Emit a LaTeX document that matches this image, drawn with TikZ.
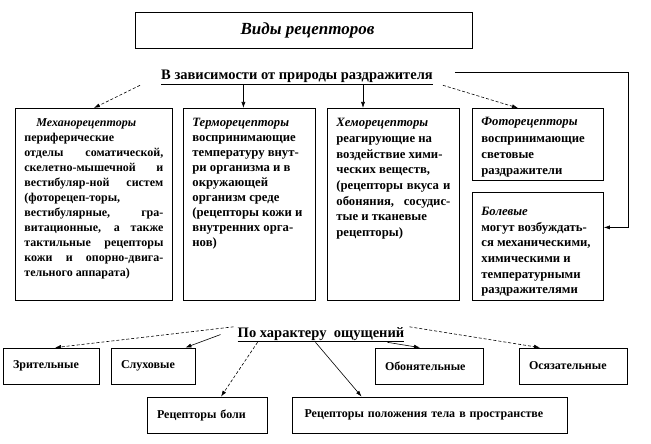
\documentclass[tikz,border=0pt]{standalone}
\usepackage{fontspec}
\setmainfont{Liberation Serif}
\usetikzlibrary{arrows.meta}
\tolerance=10000
\hbadness=10000
\hfuzz=5pt

\begin{document}
\begin{tikzpicture}[x=1pt,y=-1pt,
  recbox/.style={draw, line width=0.8pt, anchor=north west, inner xsep=9pt, inner ysep=0pt,
    font=\fontsize{12.7}{15}\selectfont\bfseries},
  smallbox/.style={draw, line width=0.8pt, inner xsep=10pt, minimum height=36pt, align=left,
    font=\fontsize{12}{14}\selectfont\bfseries},
  head/.style={inner sep=0pt, anchor=base, font=\fontsize{14.5}{16}\selectfont\bfseries},
  arr/.style={-{Latex[length=6pt,width=4pt]}, line width=0.6pt},
  darr/.style={arr, densely dashed}]
\useasboundingbox (0,0) rectangle (651,444);

% Title
\node[draw, line width=0.8pt, minimum width=337pt, minimum height=36pt,
  font=\fontsize{17}{19}\selectfont\bfseries\itshape] (title) at (303.5,30)
  {\hspace*{8pt}Виды рецепторов};

% By nature of the stimulus
\node[head] (nature) at (297,80) {\underline{В зависимости от природы раздражителя}};

\node[recbox, font=\fontsize{12}{15}\selectfont\bfseries] (mech) at (15,108)
  {\parbox[c][192pt][t]{139pt}{\vspace*{10pt}%
  \hspace*{12pt}\textit{Механорецепторы}\newline
  периферические\newline
  отделы соматической,\linebreak
  скелетно-мышечной и\linebreak
  вестибуляр-ной систем\linebreak
  (фоторецеп-торы,\newline
  вестибулярные, гра-\linebreak
  витационные, а также\linebreak
  тактильные рецепторы\linebreak
  кожи и опорно-двига-\linebreak
  тельного аппарата)}};
\node[recbox] (thermo) at (183,108) {\parbox[c][192pt][t]{114pt}{\vspace*{10pt}%
  \textit{Терморецепторы}\\
  воспринимающие\\
  температуру внут-\\
  ри организма и в\\
  окружающей\\
  организм среде\\
  (рецепторы кожи и\\
  внутренних орга-\\
  нов)}};
\node[recbox, font=\fontsize{12.7}{15.7}\selectfont\bfseries] (chemo) at (327,108)
  {\parbox[c][192pt][t]{114pt}{\vspace*{10pt}%
  \textit{Хеморецепторы}\newline
  реагирующие на\newline
  воздействие хими-\newline
  ческих веществ,\newline
  (рецепторы вкуса и\linebreak
  обоняния, сосудис-\linebreak
  тые и тканевые\newline
  рецепторы)}};
\node[recbox, font=\fontsize{12.7}{16.3}\selectfont\bfseries] (photo) at (472,108)
  {\parbox[c][72pt][t]{113pt}{\vspace*{9pt}%
  \textit{Фоторецепторы}\\
  воспринимающие\\
  световые\\
  раздражители}};
\node[recbox, font=\fontsize{12.7}{15.6}\selectfont\bfseries] (pain) at (472,192)
  {\parbox[c][108pt][t]{113pt}{\vspace*{15pt}%
  \textit{Болевые}\\
  могут возбуждать-\\
  ся механическими,\\
  химическими и\\
  температурными\\
  раздражителями}};

\draw[darr] ([xshift=-21pt]nature.south west) -- (mech.north);
\draw[arr] ([xshift=-6pt]thermo.north |- nature.south) -- ([xshift=-6pt]thermo.north);
\draw[arr] ([xshift=36pt]chemo.north west |- nature.south) -- ([xshift=36pt]chemo.north west);
\draw[darr] ([xshift=10pt]nature.south east) -- ([xshift=46pt]photo.north west);
\draw[arr] ([xshift=22pt,yshift=5pt]nature.east) -| ([xshift=24pt,yshift=19pt]pain.east)
  -- ([yshift=19pt]pain.east);

% By kind of sensation
\node[head] (feel) at (321,337) {\underline{По характеру\ \ ощущений}};

\node[smallbox, text width=76pt] (vis) at (51,366) {Зрительные};
\node[smallbox, text width=64pt] (aud) at (153,366) {Слуховые};
\node[smallbox, text width=88pt] (smell) at (429,366) {Обонятельные};
\node[smallbox, text width=88pt] (touch) at (573,366) {Осязательные};
\node[smallbox, text width=100pt] (painr) at (207,415) {Рецепторы боли};
\node[smallbox, text width=250pt, inner xsep=12.5pt] (pos) at (429.5,415)
  {Рецепторы положения тела в пространстве};

\draw[darr] ([xshift=-4pt]feel.north west) -- ([xshift=4pt]vis.north);
\draw[arr] ([xshift=-17pt]feel.west) -- ([xshift=-10pt]aud.north east);
\draw[darr] ([xshift=20pt]feel.south west) -- ([xshift=14pt]painr.north);
\draw[arr] ([xshift=78pt]feel.south west) -- ([xshift=70pt]pos.north west);
\draw[arr] ([xshift=-17pt]feel.south east) -- ([xshift=-9pt]smell.north);
\draw[darr] ([xshift=5pt]feel.north east) -- ([xshift=-33pt]touch.north);
\end{tikzpicture}
\end{document}
